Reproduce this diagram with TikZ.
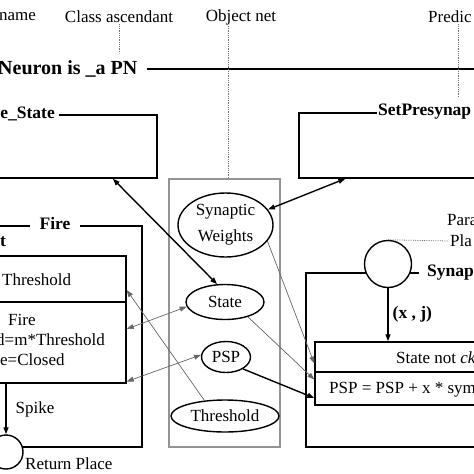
\documentclass[tikz,border=0pt]{standalone}
\usepackage{fontspec}
\setmainfont{Liberation Serif}
\usetikzlibrary{arrows.meta,fit,shapes.geometric}

\begin{document}
\begin{tikzpicture}[
  x=1pt,y=-1pt,
  txt/.style={font=\fontsize{17}{20}\selectfont,inner sep=1pt},
  btxt/.style={font=\fontsize{17.5}{20}\selectfont\bfseries,inner sep=1pt},
  frame/.style={draw,line width=1.4pt,inner sep=0pt},
  netbox/.style={draw=black!42,line width=1.3pt,inner sep=0pt},
  tok/.style={draw,ellipse,line width=1.4pt,inner sep=0pt,font=\fontsize{17}{20}\selectfont},
  place/.style={draw,circle,line width=1.4pt,fill=white,inner sep=0pt},
  tag/.style={btxt,fill=white},
  note/.style={draw=black!55,densely dotted,line width=0.8pt},
  link/.style={draw=black!60,line width=0.7pt},
  heavy/.style={line width=1.4pt},
  >={Triangle[length=7pt,width=5pt]}
]
\useasboundingbox (0,0) rectangle (474,474);
\clip (0,0) rectangle (474,474);
% --- header ---
\node[txt,anchor=west] (clsname) at (-2,17) {name};
\node[txt] (ascend) at (119,17) {Class ascendant};
\node[txt] (objnet) at (241,17) {Object net};
\node[txt,anchor=west] (predic) at (427,17) {Predic};
\coordinate (ascend-end) at (119,53);
\coordinate (predic-end) at (458,97);
\coordinate (rule-end) at (480,68);
\node[font=\fontsize{20}{24}\selectfont\bfseries,anchor=west,inner sep=1pt] (title) at (-3,69) {Neuron is \_a PN};
\draw[heavy] ([xshift=9pt]title.east) -- (title.east -| rule-end);
\draw[note] (ascend.south) -- (ascend-end);
\draw[note] (predic.south -| predic-end) -- (predic-end);
% --- top transitions ---
\node[frame,fit={(-20,115) (157,178)}] (updbox) {};
\node[tag,anchor=east,inner xsep=4pt] (updlbl) at (59,114) {e\_State};
\node[frame,fit={(299,113) (490,178)}] (presbox) {};
\node[tag,anchor=west,inner xsep=1pt] (preslbl) at (377,112) {SetPresynap\hspace*{12pt}};
% --- object net ---
\node[netbox,fit={(169,179) (280,447)}] (objbox) {};
\draw[note] ([xshift=3.5pt]objbox.north |- objnet.south) -- ([xshift=3.5pt]objbox.north);
\node[tok,minimum width=95pt,minimum height=64pt,align=center] (sw) at (225.5,225) {Synaptic\\[6pt]Weights};
\node[tok,minimum width=78pt,minimum height=35pt] (st) at (225,302) {State};
\node[tok,minimum width=49pt,minimum height=31pt] (psp) at (226,357) {PSP};
\node[tok,minimum width=108pt,minimum height=32pt] (thr) at (225,416) {Threshold};
% --- fire transition ---
\node[frame,fit={(-20,226) (142,447)}] (firebox) {};
\node[tag,inner xsep=10pt] (firelbl) at (55,224) {Fire};
\node[btxt,anchor=west] (firesub) at (-1,242) {t};
\node[frame,fit={(-20,256) (126,383)}] (guardbox) {};
\coordinate (guardcut) at (0,302);
\draw[heavy] (guardbox.west |- guardcut) -- (guardbox.east |- guardcut);
\node[txt,anchor=west] (g1) at (1,280) {Threshold};
\node[txt,anchor=west] (g2) at (7,320) {Fire};
\node[txt,anchor=west] (g3) at (-5,340) {d=m*Threshold};
\node[txt,anchor=west] (g4) at (-1,360) {e=Closed};
\node[place,minimum size=34pt] (ret) at (6,452) {};
\node[txt,anchor=west] (retlbl) at (24,464) {Return Place};
\draw[->,heavy] (guardbox.south -| ret.north) -- (ret.north) node[txt,midway,right=8pt] {Spike};
% --- synapse transition ---
\node[frame,fit={(306,273) (490,447)}] (synbox) {};
\node[place,minimum size=47pt] (par) at (388,264) {};
\node[tag,anchor=west,inner xsep=8pt] (synlbl) at (419,273) {Synap\hspace*{12pt}};
\node[frame,fit={(315,342) (490,405)}] (actbox) {};
\coordinate (actcut) at (0,372);
\draw[heavy] (actbox.west |- actcut) -- (actbox.east |- actcut);
\node[txt,anchor=west] (a1) at (395,358) {State not \textit{ck}};
\node[txt,anchor=west] (a2) at (328,390) {PSP = PSP + x * sym};
\node[txt,anchor=west] (para1) at (446,220) {Para};
\node[txt,anchor=west] (para2) at (449,241) {Pla};
\draw[note] (par.north) -- (para2.west);
\draw[->,heavy] (par.south) -- (par.south |- actbox.north) node[btxt,midway,right=3pt] {(x , j)};
% --- arcs ---
\draw[<->,heavy] (updbox.-36) -- (st.114);
\draw[<->,heavy] (presbox.-146) -- (sw.20);
\draw[link,->] (sw.-21) -- ([yshift=10pt]actbox.west);
\draw[link,->] (st.-33) -- ([yshift=-6pt]actbox.west);
\draw[->,heavy] (psp.-35) -- ([yshift=-24.5pt]actbox.west);
\draw[link,<->] ([yshift=-9.5pt]guardbox.east) -- (st.187);
\draw[link,<->] ([yshift=-62pt]guardbox.east) -- (psp.175);
\draw[link,->] (thr.143) -- ([yshift=29.5pt]guardbox.east);
\end{tikzpicture}
\end{document}
